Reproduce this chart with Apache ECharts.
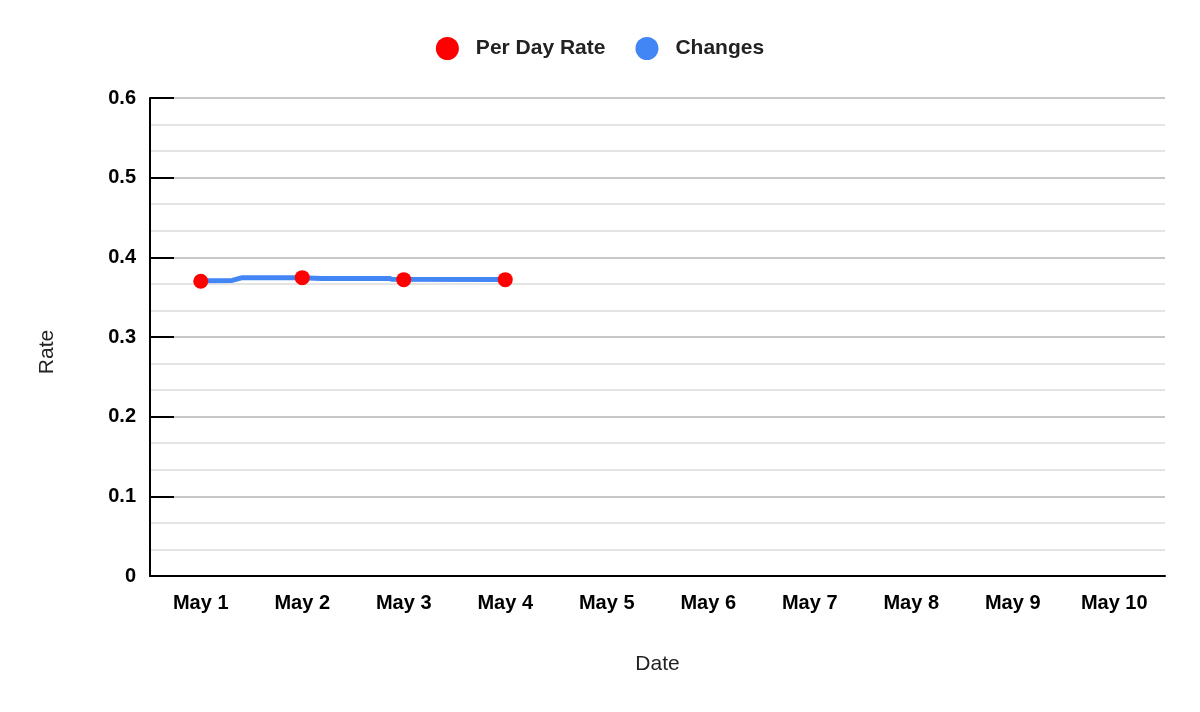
<!DOCTYPE html>
<html>
<head>
<meta charset="utf-8">
<script src="https://cdn.jsdelivr.net/npm/echarts@6/dist/echarts.min.js"></script>
<style>
  html, body { margin: 0; padding: 0; background: #fff; }
  #chart { width: 1200px; height: 712px; }
</style>
</head>
<body>
<div id="chart"></div>
<script>
// categories on the x axis
const days = ['May 1', 'May 2', 'May 3', 'May 4', 'May 5', 'May 6', 'May 7', 'May 8', 'May 9', 'May 10'];

// red dots, one per day (only the first four days have data)
const perDayRate = [0.370, 0.3745, 0.372, 0.372];

// blue line as [position in days, value]
const changesX = [0.49, 0.81, 0.91, 1.39, 1.49, 1.69, 2.36, 2.38, 3.49];
const changesY = [0.3705, 0.371, 0.3745, 0.3745, 0.3745, 0.3735, 0.3735, 0.3725, 0.3722];

const chart = echarts.init(document.getElementById('chart'));

const fontFamily = '"Liberation Sans", Arial, sans-serif';

chart.setOption({
    animation: false,
    textStyle: { fontFamily: fontFamily },
    legend: {
        top: 32,
        left: 'center',
        icon: 'circle',
        itemWidth: 23,
        itemHeight: 23,
        itemGap: 30,
        textStyle: {
            fontSize: 21, fontWeight: 'bold', color: '#222', fontFamily: fontFamily,
            padding: [0, 0, 0, 12]
        },
        data: ['Per Day Rate', 'Changes']
    },
    grid: {
        left: 150,
        right: 35,
        top: 98,
        bottom: 136
    },
    xAxis: [
        {
            type: 'category',
            data: days,
            boundaryGap: true,
            name: 'Date',
            nameLocation: 'middle',
            nameGap: 78,
            nameTextStyle: { fontSize: 21, color: '#222', fontFamily: fontFamily },
            axisLine: { lineStyle: { color: '#000', width: 2 } },
            axisTick: { show: false },
            axisLabel: { fontSize: 20, fontWeight: 'bold', color: '#000', margin: 17 },
            splitLine: { show: false }
        },
        {
            // hidden helper axis so the blue line can sit between the days
            type: 'value',
            min: 0,
            max: 10,
            show: false
        }
    ],
    yAxis: {
        type: 'value',
        min: 0,
        max: 0.6,
        interval: 0.1,
        name: 'Rate',
        nameLocation: 'middle',
        nameGap: 92,
        nameTextStyle: { fontSize: 21, color: '#222', fontFamily: fontFamily, padding: [0, 30, 0, 0] },
        axisLine: { show: true, lineStyle: { color: '#000', width: 2 } },
        axisTick: { show: true, inside: true, length: 24, lineStyle: { color: '#000', width: 2 } },
        axisLabel: { fontSize: 20, fontWeight: 'bold', color: '#000', margin: 14 },
        splitLine: { lineStyle: { color: '#c8c8c8', width: 2 } },
        minorTick: { show: false, splitNumber: 3 },
        minorSplitLine: { show: true, lineStyle: { color: '#e4e4e4', width: 2 } }
    },
    series: [
        {
            name: 'Changes',
            type: 'line',
            xAxisIndex: 1,
            showSymbol: false,
            color: '#4285F4',
            lineStyle: { width: 5, color: '#4285F4' },
            z: 2,
            data: changesX.map((x, i) => [x, changesY[i]])
        },
        {
            name: 'Per Day Rate',
            type: 'scatter',
            symbol: 'circle',
            symbolSize: 15,
            color: '#FF0000',
            itemStyle: { color: '#FF0000', opacity: 1 },
            z: 3,
            data: perDayRate
        }
    ]
});
</script>
</body>
</html>
